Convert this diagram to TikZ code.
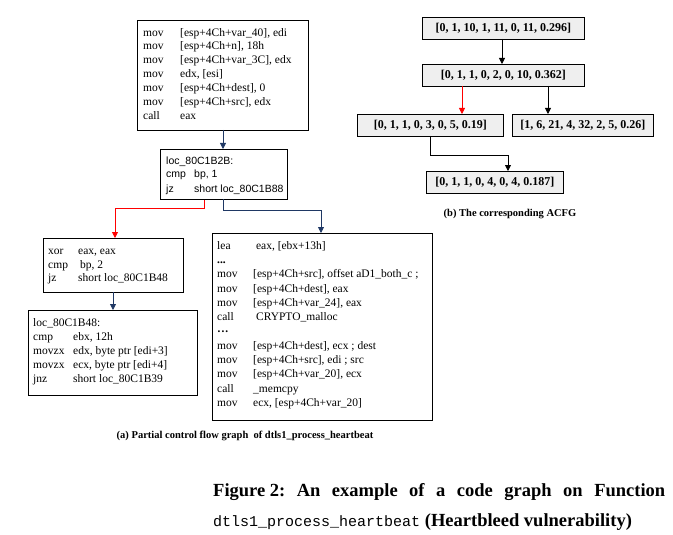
\documentclass[tikz,border=0pt]{standalone}
\usepackage{fontspec}
\setmainfont{Liberation Serif}
\setsansfont{Liberation Sans}
\setmonofont{Liberation Mono}
\usetikzlibrary{arrows.meta}
\definecolor{navy}{HTML}{1F3864}
\definecolor{boxgray}{HTML}{EFEFEF}
\begin{document}
\begin{tikzpicture}[x=1pt,y=-1pt,
  cfg/.style={draw,line width=0.8pt,anchor=north west,align=left,inner sep=0pt},
  acfg/.style={draw,line width=0.8pt,fill=boxgray,anchor=north west,inner sep=0pt},
  acfgtext/.style={font=\fontsize{12}{14}\selectfont\bfseries},
  arr/.style={line width=0.8pt,-{Triangle[length=6pt,width=6pt]}},
  captext/.style={font=\fontsize{10.5}{12}\selectfont\bfseries}]
\useasboundingbox (0,0) rectangle (673,535);
% CFG
\node[cfg,minimum width=171pt,minimum height=110pt] (b1) at (137,20) {};
\node[anchor=north west,align=left,font=\fontsize{11.5}{14}\selectfont,inner sep=0pt] (t1) at (143,26) {\begin{tabular}{@{}p{37pt}@{}l@{}}
mov & [esp+4Ch+var\_40], edi\\ mov & [esp+4Ch+n], 18h\\ mov & [esp+4Ch+var\_3C], edx\\ mov & edx, [esi]\\ mov & [esp+4Ch+dest], 0\\ mov & [esp+4Ch+src], edx\\ call & eax\end{tabular}};
\node[cfg,minimum width=127pt,minimum height=50pt] (b2) at (160,149) {};
\node[anchor=north west,font=\sffamily\fontsize{10.5}{14}\selectfont,inner sep=0pt] (t2) at (166,154) {\begin{tabular}{@{}p{28pt}@{}l@{}}
\multicolumn{2}{@{}l@{}}{loc\_80C1B2B:}\\ cmp & bp, 1\\ jz & short loc\_80C1B88\end{tabular}};
\node[cfg,minimum width=140pt,minimum height=54pt] (b3) at (43,238) {};
\node[anchor=north west,font=\fontsize{11.5}{14}\selectfont,inner sep=0pt] (t3) at (48,244) {\begin{tabular}{@{}p{30pt}@{}l@{}}
xor & eax, eax\\ cmp & \,bp, 2\\ jz & short loc\_80C1B48\end{tabular}};
\node[cfg,minimum width=169pt,minimum height=85pt] (b4) at (28,310) {};
\node[anchor=north west,font=\fontsize{11.5}{14}\selectfont,inner sep=0pt] (t4) at (33,316) {\begin{tabular}{@{}p{40pt}@{}l@{}}
\multicolumn{2}{@{}l@{}}{loc\_80C1B48:}\\ cmp & ebx, 12h\\ movzx & edx, byte ptr [edi+3]\\ movzx & ecx, byte ptr [edi+4]\\ jnz & short loc\_80C1B39\end{tabular}};
\node[cfg,minimum width=220pt,minimum height=187pt] (b5) at (212,233) {};
\node[anchor=north west,font=\fontsize{11.5}{14.3}\selectfont,inner sep=0pt] (t5) at (217,239) {\begin{tabular}{@{}p{36pt}@{}l@{}}
lea & \ eax, [ebx+13h]\\ \textbf{...} & \\ mov & [esp+4Ch+src], offset aD1\_both\_c ;\\ mov & [esp+4Ch+dest], eax\\ mov & [esp+4Ch+var\_24], eax\\ call & \ CRYPTO\_malloc\\ \textbf{\textperiodcentered\textperiodcentered\textperiodcentered} & \\ mov & [esp+4Ch+dest], ecx ; dest\\ mov & [esp+4Ch+src], edi ; src\\ mov & [esp+4Ch+var\_20], ecx\\ call & \_memcpy\\ mov & ecx, [esp+4Ch+var\_20]\end{tabular}};
\draw[arr,navy] (223,130) -- (223,149);
\draw[arr,red] ([xshift=-20pt]b2.south) |- (115,208) -- (115,238);
\draw[arr,navy] (113,292) -- (113,310);
\draw[arr,navy] (223,199) |- (321,210) -- (321,233);
\node[captext] (capa) at (245,436) {(a) Partial control flow graph\ \ of dtls1\_process\_heartbeat};
% ACFG
\node[acfg,minimum width=162pt,minimum height=22pt] (a1) at (422,17) {};
\node[acfgtext] at (a1.center) {[0, 1, 10, 1, 11, 0, 11, 0.296]};
\node[acfg,minimum width=162pt,minimum height=22pt] (a2) at (422,64) {};
\node[acfgtext] at (a2.center) {[0, 1, 1, 0, 2, 0, 10, 0.362]};
\node[acfg,minimum width=146pt,minimum height=22pt] (a3) at (357,114) {};
\node[acfgtext] at (a3.center) {[0, 1, 1, 0, 3, 0, 5, 0.19]};
\node[acfg,minimum width=141pt,minimum height=22pt] (a4) at (512,114) {};
\node[acfgtext] at (a4.center) {[1, 6, 21, 4, 32, 2, 5, 0.26]};
\node[acfg,minimum width=137pt,minimum height=22pt] (a5) at (426,171) {};
\node[acfgtext] at (a5.center) {[0, 1, 1, 0, 4, 0, 4, 0.187]};
\draw[arr] (502,39) -- (502,64);
\draw[arr,red] (462,86) -- (462,114);
\draw[arr] (548,86) -- (548,114);
\draw[arr] (430,136) |- (508,155) -- (508,171);
\node[captext] (capb) at (510,214) {(b) The corresponding ACFG};
% figure caption
\node[anchor=west,font=\fontsize{18.5}{22}\selectfont\bfseries,inner sep=0pt] (fc1) at (213,492) {\makebox[452pt][s]{Figure 2:\hfill An\hfill example\hfill of\hfill a\hfill code\hfill graph\hfill on\hfill Function}};
\node[anchor=west,font=\fontsize{18.5}{22}\selectfont\bfseries,inner sep=0pt] (fc2) at (213,522) {{\mdseries\ttfamily\fontsize{15}{20}\selectfont dtls1\_process\_heartbeat} (Heartbleed vulnerability)};
\end{tikzpicture}
\end{document}
